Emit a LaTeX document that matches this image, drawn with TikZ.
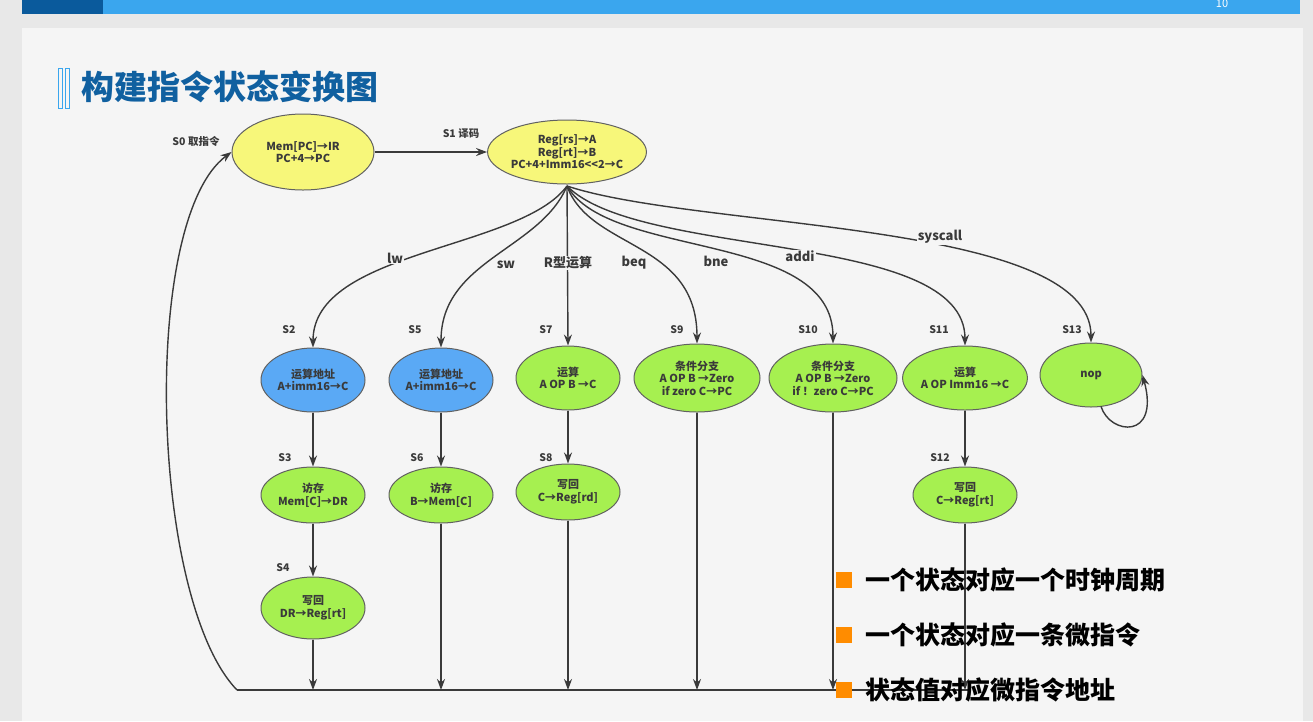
\documentclass[tikz,border=0pt]{standalone}
\usepackage{fontspec}
\setmainfont{Noto Sans CJK SC}
\usetikzlibrary{arrows.meta,shapes.geometric}
\definecolor{yel}{HTML}{F7F77A}
\definecolor{blu}{HTML}{5AA9F5}
\definecolor{grn}{HTML}{A6F050}
\definecolor{txt}{HTML}{3A3A3A}
\definecolor{bar}{HTML}{3AA6EE}
\definecolor{dbar}{HTML}{0A5A9C}
\definecolor{ttl}{HTML}{1060A0}
\begin{document}
\begin{tikzpicture}[x=1pt,y=-1pt,
 st/.style={ellipse,draw=txt!80,line width=1pt,inner sep=0pt,align=center,font=\fontsize{11}{12.5}\selectfont\bfseries,text=txt},
 lab/.style={font=\fontsize{10.5}{12}\selectfont\bfseries,text=txt},
 elab/.style={font=\fontsize{13}{14}\selectfont\bfseries,text=txt,fill=gray!8,inner sep=1pt},
 arr/.style={draw=txt,line width=1.4pt,-{Stealth[length=11pt,width=8pt]}},
 ln/.style={draw=txt,line width=1.4pt},
 bul/.style={font=\fontsize{25}{27}\selectfont\bfseries,anchor=west,text=black}]
\useasboundingbox (0,0) rectangle (1313,721);
\fill[gray!18] (0,0) rectangle (1313,721);
\fill[gray!8] (22,28) rectangle (1303,721);
\fill[bar] (22,0) rectangle (1300,14);
\fill[dbar] (22,0) rectangle (103,14);
\node[text=white,font=\fontsize{11}{11}\selectfont] (pg) at (1222,4) {10};
\draw[bar,line width=1pt] (58,68) rectangle (62,108);
\draw[bar,line width=1pt] (65,68) rectangle (69,108);
\node[anchor=west,font=\fontsize{33}{35}\selectfont\bfseries,text=ttl] (title) at (78,87) {构建指令状态变换图};

\node[st,fill=yel,minimum width=142,minimum height=76] (s0) at (303,152) {Mem[PC]→IR\\PC+4→PC};
\node[st,fill=yel,minimum width=150,minimum height=64] (s1) at (567,152) {Reg[rs]→A\\Reg[rt]→B\\PC+4+Imm16<{}<2→C};
\node[st,fill=blu,minimum width=104,minimum height=64] (s2) at (313,380) {运算地址\\A+imm16→C};
\node[st,fill=blu,minimum width=104,minimum height=64] (s5) at (441,380) {运算地址\\A+imm16→C};
\node[st,fill=grn,minimum width=104,minimum height=64] (s7) at (568,378) {运算\\A OP B →C};
\node[st,fill=grn,minimum width=126,minimum height=68] (s9) at (697,378) {条件分支\\A OP B →Zero\\if zero C→PC};
\node[st,fill=grn,minimum width=128,minimum height=68] (s10) at (833,378) {条件分支\\A OP B →Zero\\if ！zero C→PC};
\node[st,fill=grn,minimum width=122,minimum height=64] (s11) at (965,378) {运算\\A OP Imm16 →C};
\node[st,fill=grn,minimum width=102,minimum height=64] (s13) at (1091,375) {nop};
\node[st,fill=grn,minimum width=104,minimum height=56] (s3) at (313,495) {访存\\Mem[C]→DR};
\node[st,fill=grn,minimum width=104,minimum height=56] (s6) at (441,495) {访存\\B→Mem[C]};
\node[st,fill=grn,minimum width=104,minimum height=56] (s8) at (568,492) {写回\\C→Reg[rd]};
\node[st,fill=grn,minimum width=104,minimum height=56] (s12) at (965,495) {写回\\C→Reg[rt]};
\node[st,fill=grn,minimum width=104,minimum height=62] (s4) at (313,608) {写回\\DR→Reg[rt]};

\node[lab] (l0) at (196,141) {S0 取指令};
\node[lab] (l1) at (461,134) {S1 译码};
\node[lab] (l2) at (289,330) {S2};
\node[lab] (l5) at (415,330) {S5};
\node[lab] (l7) at (546,330) {S7};
\node[lab] (l9) at (677,330) {S9};
\node[lab] (l10) at (808,330) {S10};
\node[lab] (l11) at (939,330) {S11};
\node[lab] (l13) at (1072,330) {S13};
\node[lab] (l3) at (285,458) {S3};
\node[lab] (l6) at (417,458) {S6};
\node[lab] (l8) at (546,458) {S8};
\node[lab] (l12) at (940,458) {S12};
\node[lab] (l4) at (283,568) {S4};

\draw[arr] (s0) -- (s1);
\coordinate (o) at (567,186);
\draw[arr] (o) .. controls (520,250) and (313,250) .. (s2.north);
\draw[arr] (o) .. controls (540,250) and (441,260) .. (s5.north);
\draw[arr] (o) -- (s7.north);
\draw[arr] (o) .. controls (590,250) and (697,240) .. (s9.north);
\draw[arr] (o) .. controls (610,260) and (833,230) .. (s10.north);
\draw[arr] (o) .. controls (640,260) and (965,230) .. (s11.north);
\draw[arr] (o) .. controls (700,230) and (1091,220) .. (s13.north);
\node[elab] at (395,258) {lw};
\node[elab] at (506,265) {sw};
\node[elab] at (568,263) {R型运算};
\node[elab] at (634,263) {beq};
\node[elab] at (716,261) {bne};
\node[elab] at (800,256) {addi};
\node[elab] at (940,237) {syscall};
\draw[arr] (s13.south) ++(10,-1) coordinate (lp) (lp) .. controls (1110,435) and (1160,440) .. (s13.east);
\draw[arr] (s2) -- (s3);
\draw[arr] (s3) -- (s4);
\draw[arr] (s5) -- (s6);
\draw[arr] (s7) -- (s8);
\draw[arr] (s11) -- (s12);
\coordinate (bl) at (237,690);
\coordinate (br) at (968,690);
\draw[ln] (bl) -- (br);
\foreach \n in {s4,s6,s8,s9,s10,s12} \draw[arr] (\n.south) -- (\n.south |- br);
\draw[arr] (bl) .. controls (150,600) and (140,220) .. (s0.west);

\foreach \y/\t in {580/一个状态对应一个时钟周期,635/一个状态对应一条微指令,690/状态值对应微指令地址}{
 \fill[orange!90!yellow] (836,\y-8) rectangle (852,\y+8);
 \node[bul] at (862,\y) {\t};}
\end{tikzpicture}
\end{document}
